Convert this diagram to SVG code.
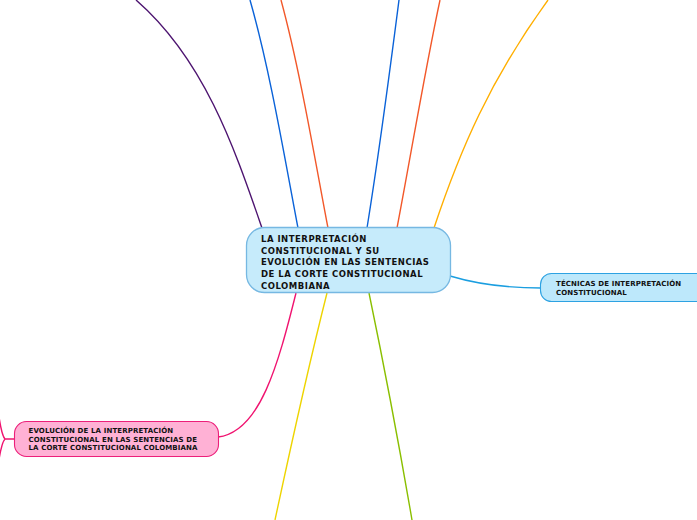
<svg xmlns="http://www.w3.org/2000/svg" width="697" height="520" viewBox="0 0 697 520">
<style>
.c{fill:none;stroke-width:1.4}
.t{font-family:"DejaVu Sans",Verdana,sans-serif;font-weight:bold;fill:#111}
</style>
<rect width="697" height="520" fill="#fff"/>
<g id="connectors">
<path class="c" stroke="#4d1470" d="M262,228 C235,150 205,60 136,0"/>
<path class="c" stroke="#0a62d8" d="M298,228 C285,160 270,70 250,0"/>
<path class="c" stroke="#f2582a" d="M328,228 C315,160 300,70 281,0"/>
<path class="c" stroke="#0a62d8" d="M367,228 C378,160 390,70 399,0"/>
<path class="c" stroke="#f2582a" d="M397,228 C410,160 425,70 440,0"/>
<path class="c" stroke="#ffaf00" d="M434,228 C460,150 490,80 548,0"/>
<path class="c" stroke="#1a9ee0" d="M450,276 C480,285 510,288 541,288"/>
<path class="c" stroke="#f01470" d="M296,293 C278,365 260,432 218,437"/>
<path class="c" stroke="#eed400" d="M327,293 C305,380 290,450 275,520"/>
<path class="c" stroke="#8abf00" d="M369,293 C385,370 400,450 412,520"/>
<path class="c" stroke="#f01470" d="M14,439 L5,439 C2,436 0,425 -2,410 M5,439 C2,442 0,452 -2,466"/>
</g>
<g id="central">
<rect x="246.5" y="227.5" width="204" height="65" rx="18" fill="#c6ebfb" stroke="#76b8e2" stroke-width="1.3"/>
<text class="t" font-size="8.5" letter-spacing="0.5">
<tspan x="261" y="242">LA INTERPRETACIÓN</tspan>
<tspan x="261" y="253.7">CONSTITUCIONAL Y SU</tspan>
<tspan x="261" y="265.4">EVOLUCIÓN EN LAS SENTENCIAS</tspan>
<tspan x="261" y="277.1">DE LA CORTE CONSTITUCIONAL</tspan>
<tspan x="261" y="288.8">COLOMBIANA</tspan>
</text>
</g>
<g id="tecnicas">
<rect x="540.5" y="273.5" width="170" height="28" rx="11" fill="#bde8fb" stroke="#2da2e2" stroke-width="1.1"/>
<text class="t" font-size="7" letter-spacing="0.12">
<tspan x="556" y="285.5">TÉCNICAS DE INTERPRETACIÓN</tspan>
<tspan x="556" y="295">CONSTITUCIONAL</tspan>
</text>
</g>
<g id="evolucion">
<rect x="14.5" y="421.5" width="204" height="35" rx="12" fill="#ffb1d5" stroke="#ec1f7a" stroke-width="1.1"/>
<text class="t" font-size="7" letter-spacing="0.12">
<tspan x="28.5" y="433">EVOLUCIÓN DE LA INTERPRETACIÓN</tspan>
<tspan x="28.5" y="441.7">CONSTITUCIONAL EN LAS SENTENCIAS DE</tspan>
<tspan x="28.5" y="450.4">LA CORTE CONSTITUCIONAL COLOMBIANA</tspan>
</text>
</g>
</svg>
